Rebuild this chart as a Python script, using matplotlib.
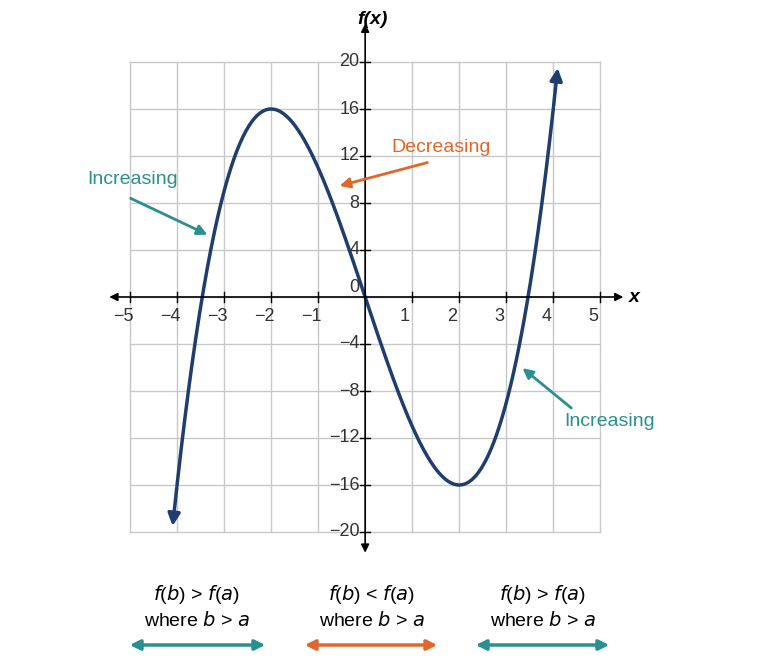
import numpy as np
import matplotlib.pyplot as plt

plt.rcParams['font.family'] = ['Liberation Sans', 'DejaVu Sans']

# cubic f(x) = x^3 - 12x
coeffs = [1, 0, -12, 0]
x_ticks = [-5, -4, -3, -2, -1, 1, 2, 3, 4, 5]
y_ticks = [-20, -16, -12, -8, -4, 4, 8, 12, 16, 20]
bottom_top = ["f(b) > f(a)", "f(b) < f(a)", "f(b) > f(a)"]
bottom_colors = ["#2a8f8f", "#e0672a", "#2a8f8f"]

navy = "#1f3d6d"
teal = "#2a8f8f"
orange = "#e0672a"

fig = plt.figure(figsize=(7.64, 6.68), dpi=100)
ax = fig.add_axes([106.5 / 764, 112.5 / 668, 522 / 764, 540.5 / 668])
ax.set_xlim(-5.5, 5.6)
ax.set_ylim(-22, 24)
ax.axis('off')

# grid
for gx in range(-5, 6):
    ax.plot([gx, gx], [-20, 20], color="#c8c8c8", lw=1, zorder=0)
for gy in range(-20, 21, 4):
    ax.plot([-5, 5], [gy, gy], color="#c8c8c8", lw=1, zorder=0)

# axes with arrows
ax.annotate("", xy=(5.55, 0), xytext=(-5.5, 0),
            arrowprops=dict(arrowstyle="<|-|>", color="black", lw=1.2, mutation_scale=12))
ax.annotate("", xy=(0, 23.5), xytext=(0, -22),
            arrowprops=dict(arrowstyle="<|-|>", color="black", lw=1.2, mutation_scale=12))
for t in x_ticks:
    ax.plot([t, t], [-0.4, 0.4], color="black", lw=1)
    ax.text(t - 0.15, -0.9, "\u2212%d" % -t if t < 0 else str(t), ha="center", va="top", fontsize=13, color="#333")
for t in y_ticks:
    ax.plot([-0.1, 0.1], [t, t], color="black", lw=1)
    ax.text(-0.12, t, "\u2212%d" % -t if t < 0 else str(t), ha="right", va="center", fontsize=13, color="#333")
ax.text(-0.12, 0.8, "0", ha="right", va="center", fontsize=13, color="#333")
ax.text(0.15, 23.6, "f(x)", ha="center", va="center", fontsize=14, style="italic", weight="bold")
ax.text(5.72, 0, "x", ha="center", va="center", fontsize=14, style="italic", weight="bold")

# curve
xs = np.linspace(-4.0, 4.0, 400)
ax.plot(xs, np.polyval(coeffs, xs), color=navy, lw=2.5)
for a, b in [(-4.0, -4.1), (4.0, 4.1)]:
    ax.annotate("", xy=(b, np.polyval(coeffs, b)), xytext=(a, np.polyval(coeffs, a)),
                arrowprops=dict(arrowstyle="-|>", color=navy, lw=2.5, mutation_scale=18))

# annotations
ax.annotate("", xy=(-3.3, 5.2), xytext=(-5.04, 8.5),
            arrowprops=dict(arrowstyle="-|>", color=teal, lw=2, mutation_scale=15))
ax.text(-4.94, 10.0, "Increasing", color=teal, ha="center", va="center", fontsize=14)
ax.annotate("", xy=(-0.6, 9.4), xytext=(1.38, 11.5),
            arrowprops=dict(arrowstyle="-|>", color=orange, lw=2, mutation_scale=15))
ax.text(1.62, 12.7, "Decreasing", color=orange, ha="center", va="center", fontsize=14)
ax.annotate("", xy=(3.3, -5.9), xytext=(4.43, -9.6),
            arrowprops=dict(arrowstyle="-|>", color=teal, lw=2, mutation_scale=15))
ax.text(5.2, -10.6, "Increasing", color=teal, ha="center", va="center", fontsize=14)

# bottom labels
centers = [197, 372, 543]
spans = [(127, 268), (302, 440), (473, 612)]
for c, (l, r), top, col in zip(centers, spans, bottom_top, bottom_colors):
    fig.text(c / 764, 1 - 595 / 668, top.replace("f(b)", "$f$(b)").replace("f(a)", "$f$(a)")
             .replace("(b)", "($b$)").replace("(a)", "($a$)"),
             ha="center", va="center", fontsize=14)
    fig.text(c / 764, 1 - 620 / 668, "where $b$ > $a$", ha="center", va="center", fontsize=14)
    fig.add_artist(plt.matplotlib.patches.FancyArrowPatch(
        (l / 764, 1 - 645 / 668), (r / 764, 1 - 645 / 668), transform=fig.transFigure,
        arrowstyle="<|-|>", color=col, lw=2.5, mutation_scale=15))

plt.rcParams['mathtext.fontset'] = 'custom'
fig.savefig("out.png", dpi=100)
